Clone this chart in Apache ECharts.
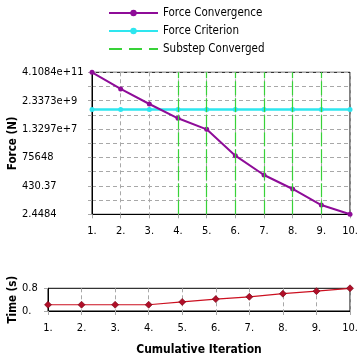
<!DOCTYPE html>
<html>
<head>
<meta charset="utf-8">
<script src="https://cdn.jsdelivr.net/npm/echarts@6/dist/echarts.min.js"></script>
<style>
html,body{margin:0;padding:0;background:#fff;}
#main{width:359px;height:362px;}
</style>
</head>
<body>
<div id="main"></div>
<script>
// ---- data ----
var iterations = [1, 2, 3, 4, 5, 6, 7, 8, 9, 10];
var forceConvergence = [4.1084e11, 1.97e10, 1.28e9, 9.5e7, 1.28e7, 1.05e5, 3.13e3, 245, 13.3, 2.4484];
var forceCriterion = [4.7e8, 4.7e8, 4.7e8, 4.7e8, 4.7e8, 4.7e8, 4.7e8, 4.7e8, 4.7e8, 4.7e8];
var substepConverged = [4, 5, 6, 7, 8, 9];
var timeValues = [0.22, 0.22, 0.22, 0.22, 0.32, 0.42, 0.50, 0.61, 0.70, 0.80];
var forceTickLabels = ['2.4484', '430.37', '75648', '1.3297e+7', '2.3373e+9', '4.1084e+11'];
var forceTickValues = [2.4484, 430.37, 75648, 1.3297e7, 2.3373e9, 4.1084e11];
var timeTickLabels = ['0.', '0.8'];
var xTickLabels = ['1.', '2.', '3.', '4.', '5.', '6.', '7.', '8.', '9.', '10.'];

// log scale helper (offset so the lowest tick sits at 0)
var logMin = Math.log10(forceTickValues[0]);
var logStep = (Math.log10(forceTickValues[forceTickValues.length - 1]) - logMin) / (forceTickValues.length - 1);
function toLog(v) { return Math.log10(v) - logMin; }

var FONT = 'DejaVu Sans Condensed, DejaVu Sans, sans-serif';
var gridGray = '#a8a8a8';

function pairs(xs, ys, f) { return xs.map(function (x, i) { return [x, f ? f(ys[i]) : ys[i]]; }); }

var chart = echarts.init(document.getElementById('main'), null, {renderer: 'canvas'});
chart.setOption({
  animation: false,
  backgroundColor: '#fff',
  textStyle: {fontFamily: FONT},
  legend: {
    orient: 'vertical',
    left: 103, top: 2,
    itemWidth: 49, itemHeight: 8, itemGap: 6,
    textStyle: {fontFamily: FONT, fontSize: 11.5, color: '#000'},
    data: [
      {name: 'Force Convergence'},
      {name: 'Force Criterion'},
      {name: 'Substep Converged', itemStyle: {opacity: 0}}
    ]
  },
  grid: [
    {left: 92, right: 9, top: 72.3, height: 142, show: true, borderColor: '#000', borderWidth: 1, containLabel: false, outerBoundsMode: 'none'},
    {left: 48, right: 9, top: 288.3, height: 22.7, show: true, borderColor: '#000', borderWidth: 1, containLabel: false, outerBoundsMode: 'none'}
  ],
  xAxis: [
    {
      gridIndex: 0, type: 'value', min: 1, max: 10, interval: 1,
      axisLine: {show: true, lineStyle: {color: '#000'}},
      axisTick: {show: true, length: 4, lineStyle: {color: gridGray, type: [4, 3]}},
      axisLabel: {margin: 11, color: '#000', fontFamily: FONT, fontSize: 11,
        formatter: function (v) { return xTickLabels[Math.round(v) - 1]; }},
      splitLine: {show: true, lineStyle: {color: gridGray, type: [4, 3]}}
    },
    {
      gridIndex: 1, type: 'value', min: 1, max: 10, interval: 1,
      name: 'Cumulative Iteration', nameLocation: 'middle', nameGap: 33, nameMoveOverlap: false,
      nameTextStyle: {fontFamily: FONT, fontSize: 12, fontWeight: 'bold', color: '#000'},
      axisLine: {show: true, lineStyle: {color: '#000'}},
      axisTick: {show: true, length: 4, lineStyle: {color: gridGray, type: [4, 3]}},
      axisLabel: {margin: 12, color: '#000', fontFamily: FONT, fontSize: 11,
        formatter: function (v) { return xTickLabels[Math.round(v) - 1]; }},
      splitLine: {show: true, lineStyle: {color: gridGray, type: [4, 3]}}
    }
  ],
  yAxis: [
    {
      gridIndex: 0, type: 'value', min: 0, max: logStep * (forceTickValues.length - 1), interval: logStep,
      name: 'Force (N)', nameLocation: 'middle', nameGap: 73, nameRotate: 90, nameMoveOverlap: false,
      nameTextStyle: {fontFamily: FONT, fontSize: 11.5, fontWeight: 'bold', color: '#000'},
      axisLine: {show: true, lineStyle: {color: '#000'}},
      axisTick: {show: true, length: 4, lineStyle: {color: gridGray}},
      minorTick: {show: true, splitNumber: 2, length: 4, lineStyle: {color: gridGray}},
      minorSplitLine: {show: true, lineStyle: {color: gridGray, type: [4, 3]}},
      axisLabel: {margin: 70, align: 'left', color: '#000', fontFamily: FONT, fontSize: 11,
        formatter: function (v) { return forceTickLabels[Math.round(v / logStep)]; }},
      splitLine: {show: true, lineStyle: {color: gridGray, type: [4, 3]}}
    },
    {
      gridIndex: 1, type: 'value', min: 0, max: 0.8, interval: 0.8,
      name: 'Time (s)', nameLocation: 'middle', nameGap: 29, nameRotate: 90, nameMoveOverlap: false,
      nameTextStyle: {fontFamily: FONT, fontSize: 11.5, fontWeight: 'bold', color: '#000'},
      axisLine: {show: true, lineStyle: {color: '#000'}},
      axisTick: {show: true, length: 4, lineStyle: {color: gridGray}},
      axisLabel: {margin: 26, align: 'left', color: '#000', fontFamily: FONT, fontSize: 11,
        formatter: function (v) { return v === 0 ? timeTickLabels[0] : timeTickLabels[1]; }},
      splitLine: {show: false}
    }
  ],
  series: [
    {
      name: 'Substep Converged', type: 'line', xAxisIndex: 0, yAxisIndex: 0,
      data: [], symbol: 'none', color: '#38d238',
      lineStyle: {color: '#38d238', width: 1.2, type: [13, 7]},
      markLine: {
        silent: true, symbol: 'none', label: {show: false},
        lineStyle: {color: '#38d238', width: 1.2, type: [14, 3]},
        data: substepConverged.map(function (x) { return {xAxis: x}; })
      },
      z: 1
    },
    {
      name: 'Force Criterion', type: 'line', xAxisIndex: 0, yAxisIndex: 0,
      data: pairs(iterations, forceCriterion, toLog),
      symbol: 'circle', symbolSize: 5, color: '#2ee6ef',
      lineStyle: {color: '#2ee6ef', width: 2.5}, itemStyle: {color: '#2ee6ef'}, z: 2
    },
    {
      name: 'Force Convergence', type: 'line', xAxisIndex: 0, yAxisIndex: 0,
      data: pairs(iterations, forceConvergence, toLog),
      symbol: 'circle', symbolSize: 5, color: '#8e0c98',
      lineStyle: {color: '#8e0c98', width: 2}, itemStyle: {color: '#8e0c98'}, z: 3
    },
    {
      name: 'Time', type: 'line', xAxisIndex: 1, yAxisIndex: 1,
      data: pairs(iterations, timeValues),
      symbol: 'diamond', symbolSize: 7, clip: false,
      lineStyle: {color: '#cc1020', width: 1.2},
      itemStyle: {color: '#b00f28', borderColor: '#700010', borderWidth: 0.6}, z: 3
    }
  ]
});
</script>
</body>
</html>
